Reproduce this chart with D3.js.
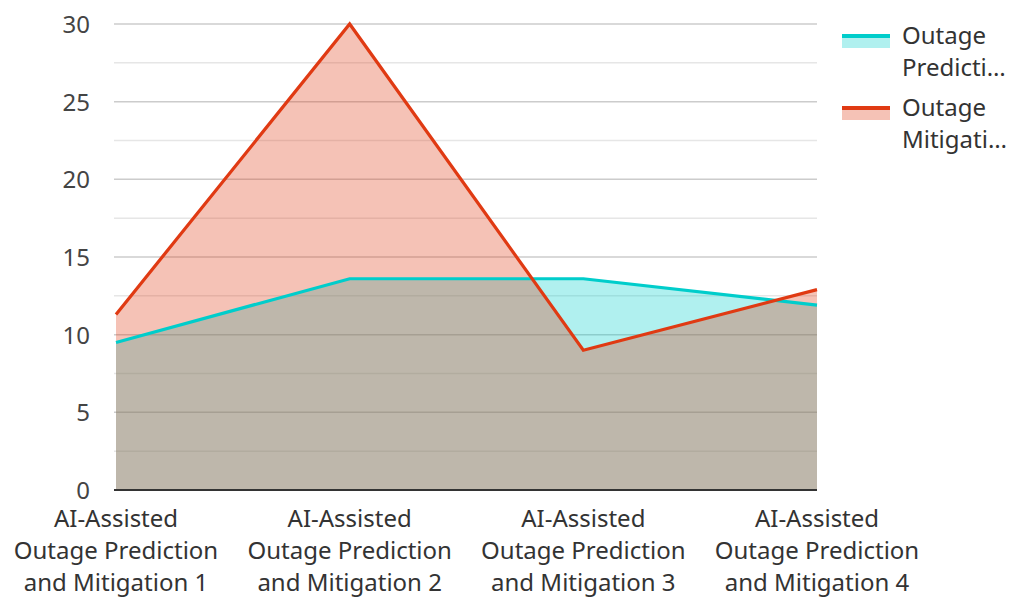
<!DOCTYPE html>
<html><head><meta charset="utf-8">
<script src="https://cdn.jsdelivr.net/npm/d3@7"></script>
<style>body{margin:0;background:#fff;font-family:"Noto Sans",sans-serif;}</style>
</head><body><svg id="c" width="1012" height="597"></svg>
<script>
const categories = ["AI-Assisted Outage Prediction and Mitigation 1","AI-Assisted Outage Prediction and Mitigation 2","AI-Assisted Outage Prediction and Mitigation 3","AI-Assisted Outage Prediction and Mitigation 4"];
const categoryLines = [["AI-Assisted","Outage Prediction","and Mitigation 1"],["AI-Assisted","Outage Prediction","and Mitigation 2"],["AI-Assisted","Outage Prediction","and Mitigation 3"],["AI-Assisted","Outage Prediction","and Mitigation 4"]];
const seriesNames = ["Outage Prediction","Outage Mitigation"];
const legendLabels = [["Outage","Predicti…"],["Outage","Mitigati…"]];
const predictionValues = [9.5, 13.6, 13.6, 11.9];
const mitigationValues = [11.3, 30, 9.0, 12.9];
const yTicks = [0,5,10,15,20,25,30];
const minorTicks = [2.5,7.5,12.5,17.5,22.5,27.5];
const colors = ["#00cdcb","#e03a13"];

const svg = d3.select("#c");
const L=116, R=817, T=24, B=490;
const FS=24;
const x = d3.scalePoint().domain(categories).range([L,R]);
const y = d3.scaleLinear().domain([0,30]).range([B,T]);

// grid
svg.append("g").selectAll("line").data(minorTicks).join("line")
 .attr("x1",L-2).attr("x2",R).attr("y1",d=>y(d)).attr("y2",d=>y(d))
 .attr("stroke","#e6e6e6").attr("stroke-width",1.5);
svg.append("g").selectAll("line").data(yTicks.filter(d=>d>0)).join("line")
 .attr("x1",L-2).attr("x2",R).attr("y1",d=>y(d)).attr("y2",d=>y(d))
 .attr("stroke","#cccccc").attr("stroke-width",1.5);

const series=[predictionValues, mitigationValues];
const area=d3.area().x((d,i)=>x(categories[i])).y0(B).y1(d=>y(d));
const line=d3.line().x((d,i)=>x(categories[i])).y(d=>y(d));
series.forEach((s,k)=>{
  svg.append("path").datum(s).attr("d",area).attr("fill",colors[k]).attr("fill-opacity",0.31);
});
series.forEach((s,k)=>{
  svg.append("path").datum(s).attr("d",line).attr("fill","none").attr("stroke",colors[k]).attr("stroke-width",3.2).attr("stroke-linejoin","miter");
});

// x axis line
svg.append("line").attr("x1",L-2).attr("x2",R).attr("y1",B).attr("y2",B).attr("stroke","#333").attr("stroke-width",2);

// y labels
const yAxis=d3.axisLeft(y).tickValues(yTicks).tickSize(0).tickPadding(0);
const ya=svg.append("g").attr("transform",`translate(${L-26},0)`).call(yAxis);
ya.select(".domain").remove();
ya.selectAll("text").attr("font-size",FS).attr("fill","#444").attr("font-family","Noto Sans").attr("dy","0.35em");

// x labels
categories.forEach((c,i)=>{
  const t=svg.append("text").attr("x",x(c)).attr("text-anchor","middle").attr("font-size",FS).attr("fill","#333");
  categoryLines[i].forEach((ln,j)=>{
    t.append("tspan").attr("x",x(c)).attr("y",527+j*32).text(ln);
  });
});

// legend
seriesNames.forEach((n,k)=>{
  const gy=36+k*72;
  svg.append("rect").attr("x",842).attr("y",gy).attr("width",48).attr("height",12).attr("fill",colors[k]).attr("fill-opacity",0.31);
  svg.append("line").attr("x1",842).attr("x2",890).attr("y1",gy).attr("y2",gy).attr("stroke",colors[k]).attr("stroke-width",4);
  const t=svg.append("text").attr("font-size",FS).attr("fill","#333");
  legendLabels[k].forEach((ln,j)=>t.append("tspan").attr("x",902).attr("y",gy+8+j*32).text(ln));
});
</script></body></html>
